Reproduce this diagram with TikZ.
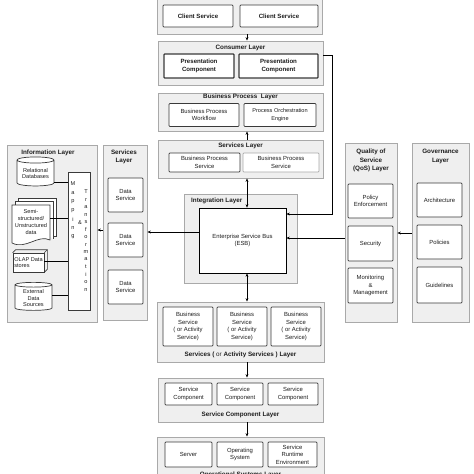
\documentclass[tikz,border=0pt]{standalone}
\usepackage{fontspec}
\setmainfont{Liberation Sans}
\usepackage{tikz}
\usetikzlibrary{shapes.geometric,arrows.meta}
\definecolor{layerfill}{HTML}{EFEFEF}
\definecolor{layerline}{HTML}{A9A9A9}
\definecolor{boxline}{HTML}{3A3A3A}
\definecolor{ink}{HTML}{1E1E1E}

\tikzset{
  layer/.style={draw=layerline, fill=layerfill, line width=0.9pt, inner sep=0pt},
  comp/.style={draw=boxline, fill=white, line width=0.7pt, rounded corners=0.8pt,
               align=center, inner sep=1pt, text=ink,
               font=\fontsize{5.9}{7.6}\selectfont},
  boldcomp/.style={comp, font=\bfseries\fontsize{6.1}{7.6}\selectfont},
  lbl/.style={text=ink, align=center, inner sep=0pt,
              font=\bfseries\fontsize{6.3}{8.3}\selectfont},
  db/.style={cylinder, shape border rotate=90, aspect=0.22, draw=boxline,
             fill=white, line width=0.7pt, align=center, inner sep=0.5pt, text=ink,
             font=\fontsize{5.6}{6.8}\selectfont},
  letter/.style={text=ink, inner sep=0pt, font=\fontsize{5.6}{6}\selectfont},
  link/.style={draw=black, line width=1pt},
  arr/.style={link, -{Stealth[length=3.4pt,width=2.8pt]}},
  darr/.style={link, {Stealth[length=3.4pt,width=2.8pt]}-{Stealth[length=3.4pt,width=2.8pt]}}
}

\begin{document}
\begin{tikzpicture}[x=1pt, y=-1pt]
\useasboundingbox (0,0) rectangle (474,474);
\clip (0,0) rectangle (474,474);
\coordinate (ax) at (247,0);

% centre column
\node[layer, minimum width=165, minimum height=48] (client) at (239.5,10) {};
\node[boldcomp, minimum width=70, minimum height=22] (cs1) at (198,16) {Client Service};
\node[boldcomp, minimum width=78, minimum height=22] (cs2) at (279,16) {Client Service};

\node[layer, minimum width=165, minimum height=44] (consumer) at (240.5,63) {};
\node[lbl] (consumerlbl) at (240.5,48) {Consumer Layer};
\node[boldcomp, line width=1.3pt, minimum width=70, minimum height=24] (pc1) at (199,66) {Presentation\\Component};
\node[boldcomp, line width=1.3pt, minimum width=79, minimum height=24] (pc2) at (278.5,66) {Presentation\\Component};

\node[layer, minimum width=165, minimum height=38] (bpl) at (240.5,112) {};
\node[lbl] (bpllbl) at (240.5,97) {Business Process\ \ Layer};
\node[comp, minimum width=70, minimum height=23] (bp1) at (204,115) {Business Process\\Workflow};
\node[comp, minimum width=72, minimum height=23, font=\fontsize{5.6}{7.6}\selectfont] (bp2) at (280,115) {Process Orchestration\\Engine};

\node[layer, minimum width=165, minimum height=38] (svc) at (240.5,159) {};
\node[lbl] (svclbl) at (240.5,146) {Services Layer};
\node[comp, minimum width=71, minimum height=19] (sv1) at (204.5,162.5) {Business Process\\Service};
\node[comp, draw=layerline, minimum width=76, minimum height=19] (sv2) at (281,162.5) {Business Process\\Service};

\node[layer, minimum width=113, minimum height=89] (intl) at (240.5,238.5) {};
\node[lbl, anchor=west] (intllbl) at (191,201) {Integration Layer};
\node[comp, draw=black, rounded corners=0pt, minimum width=87, minimum height=65] (esb) at (242.5,240.5) {Enterprise Service Bus\\(ESB)};

\node[layer, minimum width=167, minimum height=60] (act) at (240.5,332) {};
\node[comp, minimum width=50, minimum height=39] (ab1) at (188,326.5) {Business\\Service\\( or Activity\\Service)};
\node[comp, minimum width=50, minimum height=39] (ab2) at (242,326.5) {Business\\Service\\( or Activity\\Service)};
\node[comp, minimum width=50, minimum height=39] (ab3) at (296,326.5) {Business\\Service\\( or Activity\\Service)};
\node[lbl] (actlbl) at (240.5,355) {Services ( {\mdseries or} Activity Services ) Layer};

\node[layer, minimum width=165, minimum height=44] (scl) at (240.5,400) {};
\node[comp, minimum width=47, minimum height=22] (sc1) at (188.5,394) {Service\\Component};
\node[comp, minimum width=46, minimum height=22] (sc2) at (240,394) {Service\\Component};
\node[comp, minimum width=50, minimum height=22] (sc3) at (293,394) {Service\\Component};
\node[lbl] (scllbl) at (240.5,415) {Service Component Layer};

\node[layer, minimum width=167, minimum height=50] (opl) at (240.5,462) {};
\node[comp, minimum width=47, minimum height=25] (op1) at (188.5,454.5) {Server};
\node[comp, minimum width=46, minimum height=25] (op2) at (240,454.5) {Operating\\System};
\node[comp, minimum width=49, minimum height=25] (op3) at (292.5,454.5) {Service\\Runtime\\Environment};
\node[lbl, anchor=base] (opllbl) at (240.5,476) {Operational Systems Layer};

% left side
\node[layer, minimum width=90, minimum height=177] (info) at (52,233.5) {};
\node[lbl] (infolbl) at (48,153) {Information Layer};
\node[comp, rounded corners=0pt, minimum width=22, minimum height=138] (maptr) at (79,241) {};
\foreach \ch [count=\i] in {M,a,p,p,i,n,g}
  \node[letter] (map\i) at (73,{184+(\i-1)*8.8}) {\ch};
\node[letter] (mapamp) at (80,223) {\&};
\foreach \ch [count=\i] in {T,r,a,n,s,f,o,r,m,a,t,i,o,n}
  \node[letter] (trf\i) at (86,{192+(\i-1)*7.5}) {\ch};

\node[db, minimum width=37, minimum height=29] (rdb) at (35.5,173.5) {Relational\\Databases};
\draw[draw=boxline, line width=0.7pt, fill=white] (18,204) -- (18,198) -- (56,198) -- (56,236) -- (53,236);
\draw[draw=boxline, line width=0.7pt, fill=white] (15,207) -- (15,201) -- (53,201) -- (53,239);
\draw[draw=boxline, line width=0.7pt, fill=white] (12,243) -- (12,205) -- (50,205) -- (50,240)
  .. controls (38,234) and (26,250) .. (12,243);
\node[text=ink, align=center, inner sep=0pt, font=\fontsize{5.6}{6.8}\selectfont,
      minimum width=38, minimum height=36] (semi) at (31,222) {Semi-\\structured/\\Unstructured\\data};
\node[comp, rounded corners=0pt, align=left, minimum width=31, minimum height=19,
      font=\fontsize{5.6}{6.4}\selectfont] (olap) at (28.5,262.5) {OLAP Data\\stores};
\draw[draw=boxline, line width=0.7pt] (olap.north west) -- ++(3,-3) -| ([shift={(3,-3)}]olap.south east) -- (olap.south east);
\draw[draw=boxline, line width=0.7pt] (olap.north east) -- ++(3,-3);
\node[db, minimum width=37, minimum height=28] (ext) at (33.5,298) {External\\Data\\Sources};

\draw[link] (rdb.east |- 0,182) -- (maptr.west |- 0,182);
\draw[link] (semi.east |- 0,218) -- (maptr.west |- 0,218);
\draw[link] (olap.east |- 0,261) -- (maptr.west |- 0,261);
\draw[link] (ext.east |- 0,295) -- (maptr.west |- 0,295);

\node[layer, minimum width=44, minimum height=175] (lsvc) at (125,232.5) {};
\node[lbl] (lsvclbl) at (124,157) {Services\\Layer};
\node[comp, minimum width=35, minimum height=34] (ds1) at (125.5,195) {Data\\Service};
\node[comp, minimum width=35, minimum height=34] (ds2) at (125.5,240) {Data\\Service};
\node[comp, minimum width=35, minimum height=34] (ds3) at (125.5,287) {Data\\Service};

% right side
\node[layer, minimum width=52, minimum height=179] (qos) at (371,232.5) {};
\node[lbl] (qoslbl) at (371,160.5) {Quality of\\Service\\(QoS) Layer};
\node[comp, minimum width=45, minimum height=34] (pe) at (370.5,201) {Policy\\Enforcement};
\node[comp, minimum width=45, minimum height=35] (sec) at (370.5,243.5) {Security};
\node[comp, minimum width=45, minimum height=35] (mon) at (370.5,285.5) {Monitoring\\\&\\Management};

\node[layer, minimum width=57, minimum height=179] (gov) at (440.5,232.5) {};
\node[lbl] (govlbl) at (440.5,156.5) {Governance\\Layer};
\node[comp, minimum width=45, minimum height=34] (arch) at (439.5,200) {Architecture};
\node[comp, minimum width=45, minimum height=34] (pol) at (439.5,242) {Policies};
\node[comp, minimum width=45, minimum height=36] (guid) at (439.5,285) {Guidelines};

% connectors
\draw[arr] (client.south -| ax) -- (consumer.north -| ax);
\draw[arr] (svc.north -| ax) -- (bpl.south -| ax);
\draw[darr] (svc.south -| ax) -- (esb.north -| ax);
\draw[darr] (esb.south -| ax) -- (act.north -| ax);
\draw[arr] (act.south -| ax) -- (scl.north -| ax);
\draw[arr] (scl.south -| ax) -- (opl.north -| ax);
\draw[arr] (consumer.east |- 0,55) -- (332,55) |- (esb.east |- 0,214);
\draw[arr] (qos.west |- 0,238) -- (esb.east |- 0,238);
\draw[arr] (gov.west |- 0,233) -- (qos.east |- 0,233);
\draw[arr] (esb.west |- 0,232) -- (lsvc.east |- 0,232);
\draw[arr] (lsvc.west |- 0,230) -- (info.east |- 0,230);
\end{tikzpicture}
\end{document}
